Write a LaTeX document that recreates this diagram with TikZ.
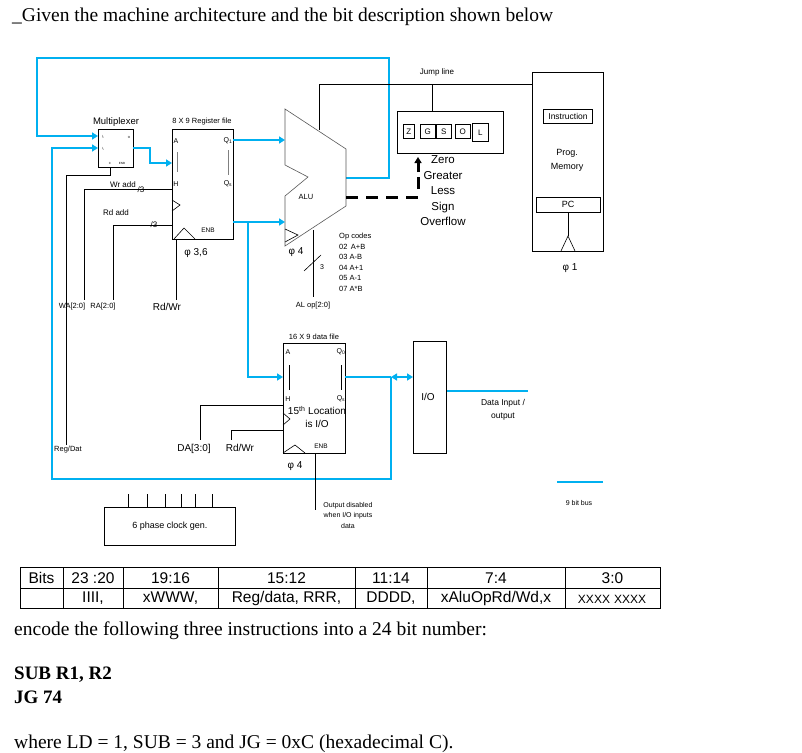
\documentclass[tikz,border=0pt]{standalone}
\usepackage{fontspec}
\setmainfont{Liberation Serif}
\newfontfamily\sff{Liberation Sans}
\usetikzlibrary{arrows.meta}
\definecolor{bus}{RGB}{0,176,240}
\begin{document}
\begin{tikzpicture}[x=1pt,y=-1pt,
  bus/.style={draw=bus,line width=2.6pt},
  busar/.style={bus,-{Triangle[length=6pt,width=7pt]}},
  wire/.style={draw=black,line width=0.6pt},
  box/.style={draw=black,line width=0.8pt},
  t/.style={font=\sff\fontsize{#1}{#1}\selectfont,inner sep=0pt},
  t/.default=8,
  tt/.style={font=\fontsize{19.5}{19.5}\selectfont,inner sep=0pt,anchor=west}]
\useasboundingbox[fill=white] (0,0) rectangle (802,752);
\node[tt] (title) at (12,17) {\_Given the machine architecture and the bit description shown below};
% blue buses
\coordinate (tl) at (37,58);
\coordinate (tr) at (389,58);
\coordinate (mi1) at (98,136);
\coordinate (mi2) at (98,148);
\draw[busar] (346,178) -- (389,178) -- (tr) -- (tl) |- (mi1);
\draw[busar] (391,377) |- (52,479) |- (mi2);
% multiplexer
\node[box,minimum width=35pt,minimum height=38pt,inner sep=0pt,anchor=north west] (mux) at (98,129) {};
\node[t=9.5] (muxl) at (116,122) {Multiplexer};
\node[t=3] at (103,137) {I\textsubscript{0}};
\node[t=3] at (103,149) {I\textsubscript{1}};
\node[t=3] at (129,137) {O};
\node[t=3] at (110,163) {C};
\node[t=3] at (122,163) {ENB};
% register file
\node[box,minimum width=61pt,minimum height=110pt,inner sep=0pt,anchor=north west] (reg) at (172,129) {};
\node[t=7.5] (regl) at (202,122) {8 X 9 Register file};
\node[t=7] at (176,141) {A};
\node[t=7] at (228,141) {Q\textsubscript{1}};
\node[t=7] at (176,184) {H};
\node[t=7] at (228,184) {Q\textsubscript{s}};
\draw[wire,draw=gray] (177,152) -- (177,172) (228,150) -- (228,175);
\draw[wire] (172,200) -- (180,205) -- (172,211);
\draw[wire] (174,239) -- (184,228) -- (195,239);
\node[t=6.5] at (208,230) {ENB};
\node[t=10] at (196,253) {φ 3,6};
\draw[busar] (133,148) -- (150,148) -- (150,163) -- (172,163);
% ALU
\draw[wire,draw=gray!70!black] (285,109) -- (346,149) -- (346,206) -- (285,246) -- (285,196) -- (308,177) -- (285,165) -- cycle;
\node[t=7.5] (alul) at (306,197) {ALU};
\draw[wire] (285,229) -- (298,235) -- (285,242);
\node[t=10] at (296,252) {φ 4};
\draw[busar] (233,140) -- (285,140);
\draw[busar] (233,222) -- (285,222);
\draw[busar] (248,222) |- (283,377);
% ALU op
\draw[wire] (313,230) -- (313,297);
\draw[wire] (304,271) -- (321,255);
\node[t=7] at (322,267) {3};
\node[t=7.5] at (313,306) {AL op[2:0]};
\node[align=left,anchor=north west,inner sep=0pt,font=\sff\fontsize{7.5}{10.5}\selectfont] at (339,233) {Op codes\\02\, A+B\\03 A-B\\04 A+1\\05 A-1\\07 A*B};
% jump line
\node[box,minimum width=71pt,minimum height=179pt,inner sep=0pt,anchor=north west] (pm) at (532,72) {};
\draw[wire] (319,130) |- (pm.west |- 0,84);
\node[t=8] at (437,72) {Jump line};
\node[box,minimum width=106pt,minimum height=42pt,inner sep=0pt,anchor=north west] (flags) at (397,111) {};
\draw[wire] (432,84) -- (flags.north -| 432,0);
\foreach \a/\b/\l in {403/414/Z,420/435/G,436/451/S,455/470/O}
  \node[box,line width=0.6pt,minimum width={\b-\a},minimum height=14pt,inner sep=0pt,t=8,anchor=north west] at (\a,124) {\l};
\node[box,line width=0.6pt,minimum width=16pt,minimum height=18pt,inner sep=0pt,t=8,anchor=north west] at (472,123) {L};
\draw[line width=3pt,dash pattern=on 12pt off 8pt] (346,197) -- (418,197) -- (418,170);
\draw[-{Triangle[length=6pt,width=7pt]},line width=3pt] (418,172) -- (418,157);
\node[align=center,inner sep=0pt,font=\sff\fontsize{11.5}{15.5}\selectfont] at (443,191) {Zero\\Greater\\Less\\Sign\\Overflow};
% program memory
\node[box,line width=0.6pt,minimum width=49pt,minimum height=14pt,inner sep=0pt,t=8.5] (instr) at (568,116) {Instruction};
\node[align=center,inner sep=0pt,font=\sff\fontsize{9}{14}\selectfont] at (567,160) {Prog.\\Memory};
\node[box,minimum width=64pt,minimum height=15pt,inner sep=0pt,t=9] (pc) at (568,204.5) {PC};
\draw[wire] (pc.south) -- (568,236);
\draw[wire] (561,251) -- (568,236) -- (575,251);
\node[t=10] at (570,268) {φ 1};
% register address wires
\draw[wire] (110,167) -- (110,175) -| (66,445);
\node[t=7.5] at (68,450) {Reg/Dat};
\draw[wire] (172,189) -| (84,300);
\node[t=8] at (123,185) {Wr add};
\node[t=8] at (141,190) {/3};
\node[t=7.5] at (72,307) {WA[2:0]};
\draw[wire] (172,225) -| (113,300);
\node[t=8] at (116,213) {Rd add};
\node[t=8] at (154,225) {/3};
\node[t=7.5] at (103,307) {RA[2:0]};
\draw[wire] (176,239) -- (176,300);
\node[t=10] at (167,307) {Rd/Wr};
% data file
\node[box,minimum width=62pt,minimum height=110pt,inner sep=0pt,anchor=north west] (df) at (283,343) {};
\node[t=7.5] at (314,337) {16 X 9 data file};
\node[t=7] at (288,352) {A};
\node[t=7] at (341,352) {Q\textsubscript{0}};
\node[t=7] at (288,399) {H};
\node[t=7] at (341,399) {Q\textsubscript{s}};
\draw[wire] (289,365) -- (289,390) (341,365) -- (341,390);
\node[align=center,inner sep=0pt,font=\sff\fontsize{10}{13}\selectfont] at (317,417) {15\textsuperscript{th} Location\\is I/O};
\draw[wire] (283,413) -- (290,419) -- (283,425);
\draw[wire] (283,453) -- (295,445) -- (305,453);
\node[t=6.5] at (321,446) {ENB};
\node[t=10] at (295,466) {φ 4};
\draw[wire] (283,405) -| (200,440);
\node[t=10] at (194,449) {DA[3:0]};
\draw[wire] (283,430) -| (231,440);
\node[t=10] at (240,448) {Rd/Wr};
\draw[wire] (315,453) -- (315,510);
\node[align=center,inner sep=0pt,font=\sff\fontsize{7}{10.5}\selectfont] at (348,515) {Output disabled\\when I/O inputs\\data};
% IO
\node[box,minimum width=33pt,minimum height=112pt,inner sep=0pt,anchor=north west] (io) at (413,341) {};
\node[t=10] at (428,397) {I/O};
\draw[bus] (345,377) -- (391,377);
\draw[bus,{Triangle[length=6pt,width=7pt]}-{Triangle[length=6pt,width=7pt]}] (391,377) -- (io.west |- 0,377);
\draw[bus] (io.east |- 0,391) -- (528,391);
\node[align=center,inner sep=0pt,font=\sff\fontsize{8.5}{13}\selectfont] at (503,410) {Data Input /\\output};
\draw[bus] (557,482) -- (603,482);
\node[t=7] at (579,503) {9 bit bus};
% clock gen
\node[box,minimum width=131pt,minimum height=38pt,inner sep=0pt,anchor=north west,t=9] (clk) at (104,507) {6 phase clock gen.};
\foreach \x in {128,147,165,181,195,212} \draw[wire] (\x,494) -- (\x,507);
% table
\draw[line width=0.8pt] (20,567) rectangle (660,608) (20,588) -- (660,588);
\foreach \x in {63,123,218,355,427,565} \draw[line width=0.8pt] (\x,567) -- (\x,608);
\foreach \a/\b/\l in {20/63/Bits,63/123/{23 :20},123/218/19:16,218/355/15:12,355/427/11:14,427/565/7:4,565/660/3:0}
  \node[t=15.5] at ({(\a+\b)/2},578) {\l};
\foreach \a/\b/\l in {63/123/{IIII,},123/218/{xWWW,},218/355/{Reg/data, RRR,},355/427/{DDDD,},427/565/{xAluOpRd/Wd,x}}
  \node[t=15.5] at ({(\a+\b)/2},598) {\l};
\node[t=12] at (612,599) {XXXX\,\,XXXX};
\node[tt] (enc) at (14,631) {encode the following three instructions into a 24 bit number:};
\node[tt,font=\bfseries\fontsize{19}{19}\selectfont] (i1) at (14,675) {SUB R1, R2};
\node[tt,font=\bfseries\fontsize{19}{19}\selectfont] (i2) at (14,697) {JG 74};
\node[tt] (wh) at (14,744) {where LD = 1, SUB = 3 and JG = 0xC (hexadecimal C).};
\end{tikzpicture}
\end{document}
